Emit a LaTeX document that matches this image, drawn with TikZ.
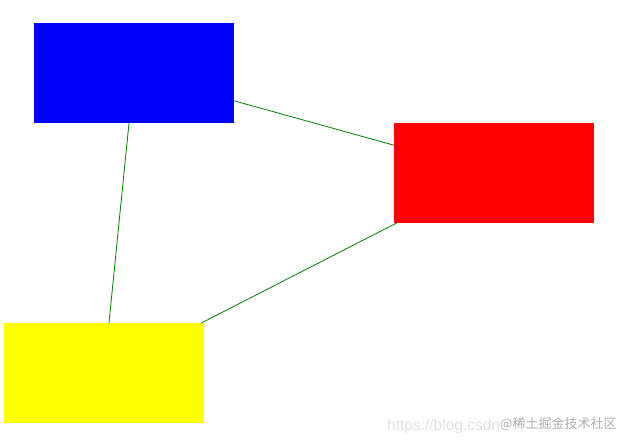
\documentclass[tikz,border=0pt]{standalone}
\usepackage{fontspec}
\setmainfont{Liberation Sans}
\newfontfamily\cjk{Noto Sans CJK SC}
\begin{document}
\begin{tikzpicture}[x=1pt,y=-1pt,
  boxx/.style={draw=none,minimum width=200pt,minimum height=100pt,inner sep=0pt,outer sep=0pt},
  link/.style={draw={rgb,255:red,0;green,128;blue,0},line width=0.8pt}]
\useasboundingbox (0,0) rectangle (632,445);
\fill[white] (0,0) rectangle (632,445);
\node[boxx,fill={rgb,255:red,0;green,0;blue,255}] (blue) at (134,73) {};
\node[boxx,fill={rgb,255:red,255;green,0;blue,0}] (red) at (494,173) {};
\node[boxx,fill={rgb,255:red,255;green,255;blue,0}] (yellow) at (104,373) {};
\draw[link] (blue) -- (red);
\draw[link] (blue) -- (yellow);
\draw[link] (red) -- (yellow);
\node[anchor=west,inner sep=0pt,text={rgb,255:red,225;green,225;blue,225},font=\fontsize{15.5}{15.5}\selectfont] (wm1) at (387,426) {https://blog.csdn};
\node[anchor=west,inner sep=1pt,fill=white,text={rgb,255:red,175;green,175;blue,175},font=\cjk\fontsize{13}{13}\selectfont] (wm2) at (499,424) {@稀土掘金技术社区};
\end{tikzpicture}
\end{document}
